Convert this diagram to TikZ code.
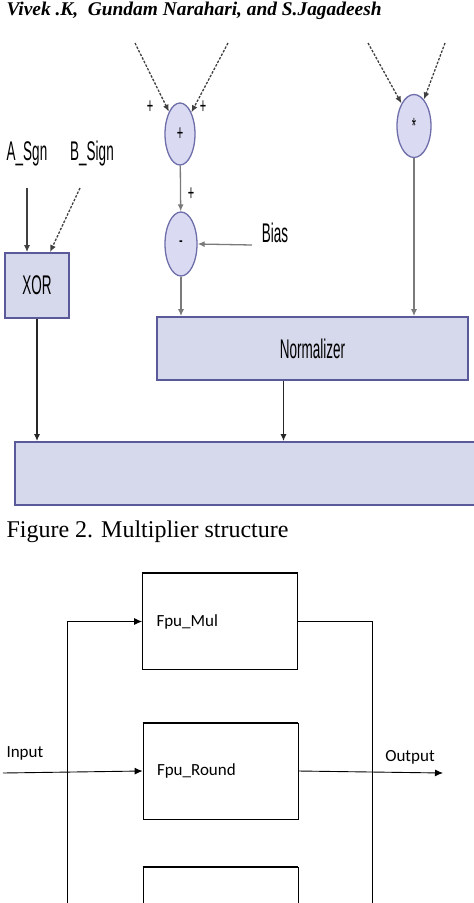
\documentclass[tikz,border=0pt]{standalone}
\usepackage{fontspec}
\usepackage{xcolor}
\usepackage{tikz}
\usetikzlibrary{
		arrows.meta,
		calc,
		shapes.geometric
	}
\setmainfont{Liberation Serif}
\newfontfamily\condsans[FakeStretch=0.5]{Liberation Sans}
\newfontfamily\calfont{Carlito}
\definecolor{boxfill}{HTML}{D6D8EB}
\definecolor{boxdraw}{HTML}{5A5A9A}
\definecolor{circfill}{HTML}{DADAF3}
\definecolor{circdraw}{HTML}{6E6EAA}
\definecolor{wiregray}{HTML}{7A7A7A}
\newcommand{\blocklabel}{\condsans\fontsize{27}{29}\selectfont}
\newcommand{\signlabel}{\condsans\fontsize{22}{24}\selectfont}
\newcommand{\fpulabel}{\calfont\fontsize{17}{19}\selectfont}
\tikzset{%
		unitbox/.style = {
			draw = boxdraw,
			fill = boxfill,
			line width = 1.8pt,
			rectangle,
			inner sep = 0pt,
			font = \blocklabel
		},
		opcircle/.style = {
			draw = circdraw,
			fill = circfill,
			line width = 1.3pt,
			ellipse,
			inner sep = 0pt,
			font = \signlabel
		},
		wire/.style = {
			-{Latex[length=7pt, width=6pt]},
			line width = 1.3pt,
			draw = wiregray
		},
		dotwire/.style = {
			wire,
			draw = black!75,
			dash pattern = on 2.5pt off 1.5pt
		},
		fpubox/.style = {
			draw,
			rectangle,
			line width = 0.8pt,
			minimum width = 155pt,
			minimum height = 96pt,
			text width = 127pt,
			inner xsep = 14pt,
			align = left,
			font = \fpulabel
		},
		fpuwire/.style = {
			line width = 0.9pt
		}
	}

\begin{document}
\begin{tikzpicture}[x=1pt, y=-1pt]
		\clip (0, 0) rectangle (474, 903);  % keep the page at the reference size
		\node [anchor=base west, font=\fontsize{19.4}{21}\selectfont\bfseries\itshape]
			(authors) at (3, 15) {Vivek .K,\ \ Gundam Narahari, and S.Jagadeesh};

		% upper figure: multiplier structure
		\node [opcircle, minimum width=30pt, minimum height=62pt] (add) at (180, 134) {+};
		\node [opcircle, minimum width=32pt, minimum height=64pt] (sub) at (181, 244) {-};
		\node [opcircle, minimum width=34pt, minimum height=63pt] (mul) at (414, 126) {*};
		\node [unitbox, minimum width=64pt, minimum height=65pt] (xor) at (37, 285.5) {XOR};
		\node [unitbox, minimum width=311pt, minimum height=63pt] (norm) at (312.5, 348.5) {Normalizer};
		\node [unitbox, minimum width=485pt, minimum height=63pt] (result) at (257.5, 473.5) {};

		\node [font=\blocklabel] (asgn) at (27, 154) {A\_Sgn};
		\node [font=\blocklabel] (bsgn) at (92, 154) {B\_Sign};
		\node [font=\blocklabel] (bias) at (275, 233) {Bias};
		\node [font=\signlabel] (plusa) at (150, 107) {+};
		\node [font=\signlabel] (plusb) at (203, 107) {+};
		\node [font=\signlabel] (plusc) at (191, 194) {+};

		\coordinate (expa) at (135, 43);
		\coordinate (expb) at (228, 43);
		\coordinate (mana) at (368, 43);
		\coordinate (manb) at (445, 43);
		\coordinate (asgnend) at (27, 188);
		\coordinate (bsgnend) at (80, 188);
		\coordinate (biasend) at (252, 245);

		\draw [dotwire] (expa) -- (add);
		\draw [dotwire] (expb) -- (add);
		\draw [dotwire] (mana) -- (mul);
		\draw [dotwire] (manb) -- (mul);
		\draw [wire] (add) -- (sub);
		\draw [wire] (biasend) -- (sub.east);
		\draw [wire] (sub.south) -- (sub.south |- norm.north);
		\draw [wire] (mul.south) -- (mul.south |- norm.north);
		\draw [wire, draw=black!75] (asgnend) -- (asgnend |- xor.north);
		\draw [dotwire] (bsgnend) -- ($(xor.north)+(13, 0)$);
		\draw [wire, draw=black!85] (xor.south) -- (xor.south |- result.north);
		\draw [wire, draw=black!85] ([xshift=-29pt]norm.south) -- ([xshift=-29pt]norm.south |- result.north);

		\node [anchor=base west, font=\fontsize{24}{26}\selectfont]
			(caption) at (3, 537) {Figure 2. Multiplier structure};

		% lower figure: fpu units
		\node [fpubox] (fpumul) at (220, 621.5) {Fpu\_Mul};
		\node [fpubox] (fpuround) at (220.5, 771) {Fpu\_Round};
		\node [fpubox] (fpunext) at (220.5, 915) {};
		\foreach \unit in {fpumul, fpuround, fpunext}
			\draw [line width=2pt] (\unit.north west) -- (\unit.north east);

		\coordinate (lbus) at (67, 910);
		\coordinate (rbus) at (372, 910);
		\coordinate (inend) at (3, 773);
		\coordinate (outend) at (443, 773);
		\node [anchor=west, font=\fpulabel] (inlbl) at (3, 753) {Input};
		\node [font=\fpulabel] (outlbl) at (410, 757) {Output};

		\draw [fpuwire, -{Latex[length=8pt, width=7pt]}] (lbus) |- (fpumul.west);
		\draw [fpuwire] (fpumul.east) -| (rbus);
		\draw [fpuwire, -{Latex[length=8pt, width=7pt]}] (inend) -- (fpuround.west);
		\draw [fpuwire, -{Latex[length=8pt, width=7pt]}] (fpuround.east) -- (outend);
	\end{tikzpicture}
\end{document}
